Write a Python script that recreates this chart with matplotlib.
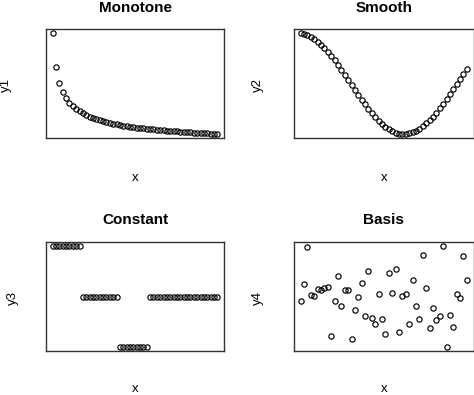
import matplotlib
matplotlib.use("Agg")
import matplotlib.pyplot as plt

plt.rcParams['font.family'] = ['Liberation Sans', 'DejaVu Sans']

x = list(range(1, 51))

y1 = [1.000, 0.707, 0.577, 0.500, 0.447, 0.408, 0.378, 0.354, 0.333, 0.316,
      0.302, 0.289, 0.277, 0.267, 0.258, 0.250, 0.243, 0.236, 0.229, 0.224,
      0.218, 0.213, 0.209, 0.204, 0.200, 0.196, 0.192, 0.189, 0.186, 0.183,
      0.180, 0.177, 0.174, 0.171, 0.169, 0.167, 0.164, 0.162, 0.160, 0.158,
      0.156, 0.154, 0.152, 0.151, 0.149, 0.147, 0.146, 0.144, 0.143, 0.141]

y2 = [0.995, 0.980, 0.955, 0.921, 0.878, 0.825, 0.765, 0.697, 0.622, 0.540,
      0.454, 0.362, 0.267, 0.170, 0.071, -0.029, -0.129, -0.227, -0.323, -0.416,
      -0.505, -0.589, -0.667, -0.737, -0.801, -0.857, -0.904, -0.942, -0.971, -0.990,
      -0.999, -0.998, -0.987, -0.967, -0.936, -0.897, -0.848, -0.791, -0.726, -0.654,
      -0.575, -0.490, -0.401, -0.307, -0.211, -0.112, -0.012, 0.087, 0.187, 0.284]

y3 = [1, 1, 1, 1, 1, 1, 1, 1, 1,
      0, 0, 0, 0, 0, 0, 0, 0, 0, 0, 0,
      -1, -1, -1, -1, -1, -1, -1, -1, -1,
      0, 0, 0, 0, 0, 0, 0, 0, 0, 0, 0, 0, 0, 0, 0, 0, 0, 0, 0, 0, 0]

y4 = [-0.11, 0.38, 1.48, 0.06, 0.03, 0.23, 0.20, 0.25, 0.29, -1.16,
      -0.11, 0.62, -0.26, 0.21, 0.19, -1.27, -0.40, -0.01, 0.41, -0.56,
      0.78, -0.63, -0.80, 0.07, -0.65, -1.11, 0.70, 0.12, 0.83, -1.06,
      0.03, 0.07, -0.80, 0.51, -0.27, -0.65, 1.26, 0.26, -0.93, -0.34,
      -0.69, -0.57, 1.52, -1.50, -0.53, -0.89, 0.08, -0.04, 1.22, 0.49]

titles = ["Monotone", "Smooth", "Constant", "Basis"]
ylabels = ["y1", "y2", "y3", "y4"]
series = [y1, y2, y3, y4]

W, H = 474, 395
fig = plt.figure(figsize=(W / 100, H / 100), dpi=100)

# panel boxes in pixels: (left, top, right, bottom)
boxes = [(46, 29, 224, 138), (294, 29, 473.5, 138),
         (46, 242, 224, 351), (294, 242, 473.5, 351)]
title_y = [8, 8, 220, 220]
xlab_y = [178, 178, 389, 389]
ylab_x = [6, 258, 13, 258]
ylab_y = [85, 85, 298, 298]

for i, (l, t, r, b) in enumerate(boxes):
    ax = fig.add_axes([l / W, 1 - b / H, (r - l) / W, (b - t) / H])
    ax.plot(x, series[i], linestyle='none', marker='o', markersize=3.8,
            markerfacecolor='none', markeredgecolor='black', markeredgewidth=0.85)
    ax.margins(0.04)
    ax.set_xticks([])
    ax.set_yticks([])
    for s in ax.spines.values():
        s.set_linewidth(1.0)
        s.set_color('#333333')
    cx = (l + r) / 2
    fig.text(cx / W, 1 - title_y[i] / H, titles[i], ha='center', va='center',
             fontsize=11, fontweight='bold')
    fig.text(cx / W, 1 - xlab_y[i] / H, "x", ha='center', va='center', fontsize=9.5)
    fig.text(ylab_x[i] / W, 1 - ylab_y[i] / H, ylabels[i], ha='center', va='center',
             fontsize=9.5, rotation=90)

fig.savefig("out.png", dpi=100)
